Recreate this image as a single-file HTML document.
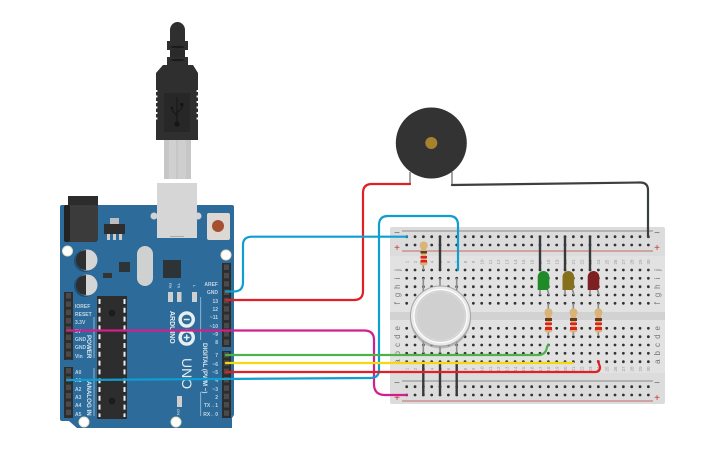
<!DOCTYPE html>
<html><head><meta charset="utf-8"><style>
html,body{margin:0;padding:0;background:#fff}
svg{display:block}
text{font-family:"Liberation Sans",sans-serif}
.p{font-size:5px;fill:#c3d5e2;font-weight:bold}
.n{font-size:4.500px;fill:#999}
.l{font-size:8px;fill:#777}
.s{font-size:10px;fill:#666}
.w{fill:none;stroke-width:2.200;stroke-linecap:round;stroke-linejoin:round}
.h{stroke:#333;stroke-width:2.800;stroke-linecap:round;stroke-dasharray:0 8.333;fill:none}
.k{stroke:#363a3d;stroke-width:2.400;fill:none}
.leg{stroke:#8d8d8d;stroke-width:1.600;fill:none}
.b{fill:#d9b478}
</style></head><body>
<svg width="725" height="453" viewBox="0 0 725 453" xmlns="http://www.w3.org/2000/svg">
<defs>
<pattern id="mesh" width="2" height="2" patternUnits="userSpaceOnUse"><rect width="2" height="2" fill="#d8d8d8"/><circle cx="1" cy="1" r="0.500" fill="#aeaeae"/></pattern>
</defs>
<rect width="725" height="453" fill="#fff"/>

<!-- USB plug -->
<path d="M170 41V30a7.500 8 0 0 1 15 0V41z" fill="#2f2f2f"/>
<rect x="167" y="41" width="21" height="9" fill="#2f2f2f"/>
<rect x="170" y="50" width="15" height="7" fill="#2a2a2a"/>
<rect x="167" y="57" width="21" height="9" fill="#2f2f2f"/>
<ellipse cx="177.500" cy="47" rx="7" ry="1.200" fill="#1b1b1b"/>
<ellipse cx="177.500" cy="60" rx="7" ry="1.200" fill="#1b1b1b"/>
<path d="M163 65H193L198 73V140H156V73z" fill="#2f2f2f"/>
<path d="M156.700 90V121M197.300 90V121" stroke="#fff" stroke-width="1.400" stroke-dasharray="2 3.500" fill="none"/>
<rect x="164" y="93" width="26" height="39" fill="#272727"/>
<path d="M177 97V124M177 116L172 110V108M177 113L182 108V105" stroke="#151515" stroke-width="1" fill="none"/>
<circle cx="177" cy="124" r="2.600" fill="#151515"/><circle cx="172" cy="108" r="1.300" fill="#151515"/><rect x="180" y="103" width="3.500" height="3.500" fill="#151515"/>
<rect x="164" y="140" width="27" height="39" fill="#c6c6c6"/>
<rect x="169" y="140" width="7" height="39" fill="#d0d0d0"/>
<rect x="178" y="140" width="8" height="39" fill="#cecece"/>

<!-- Arduino board -->
<path d="M62 205H232Q234 205 234 207V415L232 418V428H77L69 421H62Q60 421 60 419V207Q60 205 62 205z" fill="#2c6b9a"/>
<rect x="68" y="196" width="30" height="10" fill="#2c2c2c"/>
<rect x="64" y="205" width="34" height="37" rx="3" fill="#3b3b3b"/>
<rect x="64" y="205" width="6" height="37" rx="2" fill="#222"/>
<rect x="104" y="224" width="21" height="10" fill="#2e2e2e"/>
<rect x="110" y="218" width="9" height="6" fill="#bdbdbd"/>
<rect x="107" y="234" width="3" height="6" fill="#ccc"/><rect x="113" y="234" width="3" height="6" fill="#ccc"/><rect x="119" y="234" width="3" height="6" fill="#ccc"/>
<circle cx="154" cy="216" r="3.500" fill="#d3d3d3"/><circle cx="198" cy="216" r="3.500" fill="#d3d3d3"/>
<rect x="157" y="183" width="40" height="55" fill="#d6d6d6"/>
<rect x="170" y="236" width="14" height="1" fill="#aaa"/>
<rect x="207" y="213" width="23" height="27" rx="2" fill="#dcd9d5"/>
<circle cx="218" cy="226" r="6" fill="#a5512f"/>
<circle cx="67.500" cy="251" r="5" fill="#fff" stroke="#e8e0c0" stroke-width="1"/>
<circle cx="226" cy="255" r="5" fill="#fff" stroke="#e8e0c0" stroke-width="1"/>
<circle cx="84" cy="422" r="5" fill="#fff" stroke="#e8e0c0" stroke-width="1"/>
<circle cx="176" cy="422" r="5" fill="#fff" stroke="#e8e0c0" stroke-width="1"/>
<!-- capacitors -->
<circle cx="85" cy="261" r="11" fill="#1f4f75"/><circle cx="87" cy="260" r="10.500" fill="#d5d5d5"/><path d="M86 250a10 10 0 0 0 0 20z" fill="#2e2e2e"/>
<circle cx="85" cy="286" r="11" fill="#1f4f75"/><circle cx="87" cy="285" r="10.500" fill="#d5d5d5"/><path d="M86 275a10 10 0 0 0 0 20z" fill="#2e2e2e"/>
<!-- small parts -->
<rect x="119" y="262" width="11" height="10" fill="#2c3438"/>
<rect x="103" y="273" width="9" height="5" fill="#333"/>
<rect x="137" y="246" width="16" height="40" rx="8" fill="#cfd0d0"/>
<rect x="163" y="260" width="18" height="18" fill="#2c3438"/>
<rect x="168" y="292" width="5" height="10" fill="#cfcfcf"/><rect x="177" y="292" width="4.500" height="10" fill="#cfcfcf"/><rect x="192" y="292" width="5" height="10" fill="#cfcfcf"/>
<rect x="177" y="396" width="5" height="11" fill="#cfcfcf"/>

<!-- headers -->
<g fill="#2d2d2d">
<rect x="222" y="263" width="9" height="84"/><rect x="222" y="351" width="9" height="67"/>
<rect x="64" y="292" width="9" height="68"/><rect x="64" y="367" width="9" height="51"/>
</g>
<path d="M226.500 264.500V347M226.500 352V418M68.500 293V360M68.500 368V418" stroke="#4a4a4a" stroke-width="5" stroke-dasharray="5.500 2.833" fill="none"/>

<!-- chip -->
<rect x="97" y="296" width="30" height="123" fill="#2d2d2d"/>
<path d="M99.500 299V417M124.500 299V417" stroke="#eee" stroke-width="2" stroke-dasharray="5 3.800" fill="none"/>
<circle cx="112" cy="313" r="3.400" fill="#1c1c1c"/><circle cx="112" cy="401" r="3.400" fill="#1c1c1c"/>

<!-- Arduino labels -->
<g class="p" text-anchor="end">
<text x="218" y="286">AREF</text><text x="218" y="294">GND</text><text x="218" y="303">13</text><text x="218" y="311">12</text><text x="218" y="319">~11</text><text x="218" y="328">~10</text><text x="218" y="336">~9</text><text x="218" y="344">8</text>
<text x="218" y="357">7</text><text x="218" y="366">~6</text><text x="218" y="374">~5</text><text x="218" y="382">4</text><text x="218" y="391">~3</text><text x="218" y="399">2</text><text x="218" y="407">TX→1</text><text x="218" y="416">RX←0</text>
</g>
<g class="p">
<text x="75" y="308">IOREF</text><text x="75" y="316">RESET</text><text x="75" y="324">3.3V</text><text x="75" y="333">5V</text><text x="75" y="341">GND</text><text x="75" y="349">GND</text><text x="75" y="358">Vin</text>
<text x="75" y="374">A0</text><text x="75" y="382">A1</text><text x="75" y="391">A2</text><text x="75" y="399">A3</text><text x="75" y="407">A4</text><text x="75" y="416">A5</text>
</g>
<text transform="translate(87,335) rotate(90)" font-size="6.200" font-weight="bold" fill="#dbe7f0">POWER</text>
<text transform="translate(87,381) rotate(90)" font-size="6.200" font-weight="bold" fill="#dbe7f0">ANALOG IN</text>
<text transform="translate(203,343) rotate(90)" font-size="6.200" font-weight="bold" fill="#dbe7f0">DIGITAL (PWM ~)</text>
<path d="M94 317V358M94 368V416M200.700 297V340M200.700 392V416" stroke="#a9c4d8" stroke-width="0.800" fill="none"/>
<text transform="translate(169,283) rotate(90)" font-size="4" fill="#e6eef4">RX</text>
<text transform="translate(177.500,283) rotate(90)" font-size="4" fill="#e6eef4">TX</text>
<text transform="translate(193,285) rotate(90)" font-size="4" fill="#e6eef4">L</text>
<text transform="translate(177,409) rotate(90)" font-size="4" fill="#e6eef4">ON</text>
<g fill="none" stroke="#e6eef0" stroke-width="3.400">
<circle cx="186.700" cy="319.500" r="6.600"/><circle cx="186.700" cy="337.500" r="6.600"/>
</g>
<path d="M183.700 319.500H189.700M186.700 334.500V340.500M183.700 337.500H189.700" stroke="#e6eef0" stroke-width="1.500"/>
<text transform="translate(170,311) rotate(90)" font-size="7" font-weight="bold" fill="#e6eef0">ARDUINO</text>
<text transform="translate(182,358) rotate(90)" font-size="14" fill="#e6eef0">UNO</text>

<!-- Breadboard -->
<rect x="390" y="227" width="275" height="177" rx="2" fill="#dcdcdc"/>
<rect x="390" y="256" width="275" height="117" fill="#e2e2e2"/>
<rect x="390" y="312" width="275" height="8" fill="#d2d2d2"/>
<path d="M402 231H653M402 381H653" stroke="#8a8a8a" stroke-width="1.100"/>
<path d="M402 251H653M402 401H653" stroke="#c46a6a" stroke-width="1.100"/>
<path class="h" d="M406.700 236.700H652M406.700 245H652M406.700 270H652M406.700 278.300H652M406.700 286.700H652M406.700 295H652M406.700 303.300H652M406.700 328.300H652M406.700 336.700H652M406.700 345H652M406.700 353.300H652M406.700 361.700H652M406.700 386.700H652M406.700 395H652"/>
<g class="s" text-anchor="middle">
<text x="397" y="236">−</text><text x="397" y="251" style="fill:#c33">+</text><text x="397" y="386">−</text><text x="397" y="401" style="fill:#c33">+</text>
<text x="657" y="236">−</text><text x="657" y="251" style="fill:#c33">+</text><text x="657" y="386">−</text><text x="657" y="401" style="fill:#c33">+</text>
</g>
<g class="n" text-anchor="middle">
<text transform="translate(408.500,262) rotate(-90)">1</text><text transform="translate(416.800,262) rotate(-90)">2</text><text transform="translate(425.200,262) rotate(-90)">3</text><text transform="translate(433.500,262) rotate(-90)">4</text><text transform="translate(441.800,262) rotate(-90)">5</text><text transform="translate(450.200,262) rotate(-90)">6</text><text transform="translate(458.500,262) rotate(-90)">7</text><text transform="translate(466.800,262) rotate(-90)">8</text><text transform="translate(475.200,262) rotate(-90)">9</text><text transform="translate(483.500,262) rotate(-90)">10</text><text transform="translate(491.800,262) rotate(-90)">11</text><text transform="translate(500.200,262) rotate(-90)">12</text><text transform="translate(508.500,262) rotate(-90)">13</text><text transform="translate(516.800,262) rotate(-90)">14</text><text transform="translate(525.200,262) rotate(-90)">15</text><text transform="translate(533.500,262) rotate(-90)">16</text><text transform="translate(541.800,262) rotate(-90)">17</text><text transform="translate(550.200,262) rotate(-90)">18</text><text transform="translate(558.500,262) rotate(-90)">19</text><text transform="translate(566.800,262) rotate(-90)">20</text><text transform="translate(575.200,262) rotate(-90)">21</text><text transform="translate(583.500,262) rotate(-90)">22</text><text transform="translate(591.800,262) rotate(-90)">23</text><text transform="translate(600.200,262) rotate(-90)">24</text><text transform="translate(608.500,262) rotate(-90)">25</text><text transform="translate(616.800,262) rotate(-90)">26</text><text transform="translate(625.200,262) rotate(-90)">27</text><text transform="translate(633.500,262) rotate(-90)">28</text><text transform="translate(641.800,262) rotate(-90)">29</text><text transform="translate(650.200,262) rotate(-90)">30</text>
<text transform="translate(408.500,369) rotate(-90)">1</text><text transform="translate(416.800,369) rotate(-90)">2</text><text transform="translate(425.200,369) rotate(-90)">3</text><text transform="translate(433.500,369) rotate(-90)">4</text><text transform="translate(441.800,369) rotate(-90)">5</text><text transform="translate(450.200,369) rotate(-90)">6</text><text transform="translate(458.500,369) rotate(-90)">7</text><text transform="translate(466.800,369) rotate(-90)">8</text><text transform="translate(475.200,369) rotate(-90)">9</text><text transform="translate(483.500,369) rotate(-90)">10</text><text transform="translate(491.800,369) rotate(-90)">11</text><text transform="translate(500.200,369) rotate(-90)">12</text><text transform="translate(508.500,369) rotate(-90)">13</text><text transform="translate(516.800,369) rotate(-90)">14</text><text transform="translate(525.200,369) rotate(-90)">15</text><text transform="translate(533.500,369) rotate(-90)">16</text><text transform="translate(541.800,369) rotate(-90)">17</text><text transform="translate(550.200,369) rotate(-90)">18</text><text transform="translate(558.500,369) rotate(-90)">19</text><text transform="translate(566.800,369) rotate(-90)">20</text><text transform="translate(575.200,369) rotate(-90)">21</text><text transform="translate(583.500,369) rotate(-90)">22</text><text transform="translate(591.800,369) rotate(-90)">23</text><text transform="translate(600.200,369) rotate(-90)">24</text><text transform="translate(608.500,369) rotate(-90)">25</text><text transform="translate(616.800,369) rotate(-90)">26</text><text transform="translate(625.200,369) rotate(-90)">27</text><text transform="translate(633.500,369) rotate(-90)">28</text><text transform="translate(641.800,369) rotate(-90)">29</text><text transform="translate(650.200,369) rotate(-90)">30</text>
</g>
<g class="l" text-anchor="middle">
<text transform="translate(400,270) rotate(-90)">j</text><text transform="translate(400,278.300) rotate(-90)">i</text><text transform="translate(400,286.700) rotate(-90)">h</text><text transform="translate(400,295) rotate(-90)">g</text><text transform="translate(400,303.300) rotate(-90)">f</text><text transform="translate(400,328.300) rotate(-90)">e</text><text transform="translate(400,336.700) rotate(-90)">d</text><text transform="translate(400,345) rotate(-90)">c</text><text transform="translate(400,353.300) rotate(-90)">b</text><text transform="translate(400,361.700) rotate(-90)">a</text>
<text transform="translate(660,270) rotate(-90)">j</text><text transform="translate(660,278.300) rotate(-90)">i</text><text transform="translate(660,286.700) rotate(-90)">h</text><text transform="translate(660,295) rotate(-90)">g</text><text transform="translate(660,303.300) rotate(-90)">f</text><text transform="translate(660,328.300) rotate(-90)">e</text><text transform="translate(660,336.700) rotate(-90)">d</text><text transform="translate(660,345) rotate(-90)">c</text><text transform="translate(660,353.300) rotate(-90)">b</text><text transform="translate(660,361.700) rotate(-90)">a</text>
</g>

<!-- Buzzer -->
<path d="M410 172V185M452 172V185" stroke="#8a8a8a" stroke-width="1.600" fill="none"/>
<circle cx="431.300" cy="143" r="35.500" fill="#333"/>
<circle cx="431.300" cy="143" r="6" fill="#a8812f"/>

<!-- Black jumpers -->
<path class="k" d="M440 236.700V270M540 236.700V270M565 236.700V270M590 236.700V270M423.300 361.700V395M440 361.700V395M456.700 361.700V395"/>

<!-- Gas sensor -->
<path class="leg" d="M423.300 278V292M440 278V290M456.700 278V292M423.300 340V353M440 342V353M456.700 340V353"/>
<circle cx="440.500" cy="318" r="30.500" fill="#999" opacity="0.600"/>
<circle cx="440.500" cy="316" r="30" fill="#e9e9e9" stroke="#a5a5a5" stroke-width="1"/>
<circle cx="440.500" cy="316" r="26.500" fill="#d6d6d6" stroke="#fff" stroke-width="1.200"/>
<circle cx="440.500" cy="316" r="23.500" fill="url(#mesh)"/>

<!-- Resistors -->
<path class="leg" d="M423.300 245V270M548.300 303V336M573.300 303V336M598.300 303V336"/>
<path class="b" d="M423.700 241.500c3 0 4 2 4 4 0 2-1.500 3-1.500 4v11c0 1 1.500 1.500 1.500 2.500 0 1.500-1.500 2.500-4 2.500s-4-1-4-2.500c0-1 1.500-1.500 1.500-2.500v-11c0-1-1.500-2-1.500-4 0-2 1-4 4-4z"/>
<rect x="420.500" y="251" width="6.500" height="2.500" fill="#6b3a1c"/><rect x="420.500" y="256" width="6.500" height="2.500" fill="#e02020"/><rect x="420.500" y="260" width="6.500" height="2.500" fill="#e02020"/>
<path class="b" d="M548.500 308.500c3 0 4 2 4 4 0 2-1.500 3-1.500 4v11c0 1 1.500 1.500 1.500 2.500 0 1.500-1.500 2.500-4 2.500s-4-1-4-2.500c0-1 1.500-1.500 1.500-2.500v-11c0-1-1.500-2-1.500-4 0-2 1-4 4-4z"/>
<path class="b" d="M573.500 308.500c3 0 4 2 4 4 0 2-1.500 3-1.500 4v11c0 1 1.500 1.500 1.500 2.500 0 1.500-1.500 2.500-4 2.500s-4-1-4-2.500c0-1 1.500-1.500 1.500-2.500v-11c0-1-1.500-2-1.500-4 0-2 1-4 4-4z"/>
<path class="b" d="M598.500 308.500c3 0 4 2 4 4 0 2-1.500 3-1.500 4v11c0 1 1.500 1.500 1.500 2.500 0 1.500-1.500 2.500-4 2.500s-4-1-4-2.500c0-1 1.500-1.500 1.500-2.500v-11c0-1-1.500-2-1.500-4 0-2 1-4 4-4z"/>
<rect x="545" y="318" width="7" height="3" fill="#6b3a1c"/><rect x="545" y="322.500" width="7" height="2.500" fill="#e02020"/><rect x="545" y="327" width="7" height="3" fill="#e02020"/>
<rect x="570" y="318" width="7" height="3" fill="#6b3a1c"/><rect x="570" y="322.500" width="7" height="2.500" fill="#e02020"/><rect x="570" y="327" width="7" height="3" fill="#e02020"/>
<rect x="595" y="318" width="7" height="3" fill="#6b3a1c"/><rect x="595" y="322.500" width="7" height="2.500" fill="#e02020"/><rect x="595" y="327" width="7" height="3" fill="#e02020"/>

<!-- LEDs -->
<path class="leg" d="M540 288V295M547 288L549 295M565 288V295M572 288L574 295M590 288V295M597 288L599 295"/>
<path d="M537.700 290V277a5.800 6 0 0 1 11.600 0V288l-2 2z" fill="#1f8a28"/>
<path d="M562.500 290V277a5.800 6 0 0 1 11.600 0V288l-2 2z" fill="#85701e"/>
<path d="M587.700 290V277a5.800 6 0 0 1 11.600 0V288l-2 2z" fill="#7e1f22"/>

<!-- Wires -->
<path class="w" stroke="#3b3f42" d="M452 185L640 182.500Q648 182.500 648 190V236.700"/>
<path class="w" stroke="#e01f26" d="M410 184H372Q363 184 363 193V291Q363 300 354 300H226"/>
<path class="w" stroke="#0e9ed0" d="M226 291.500H234Q243 291.500 243 282V245Q243 236.700 252 236.700H406.700"/>
<path class="w" stroke="#d21f8d" d="M67 330.500H364Q374 330.500 374 340V384Q374 395 385 395H406.700"/>
<path class="w" stroke="#0e9ed0" d="M67 380L370 378Q379 378 379 370V225Q379 216 388 216H449Q458 216 458 225V270"/>
<path class="w" stroke="#4bb34a" d="M226 355H538Q546 355 547 347L548 345"/>
<path class="w" stroke="#f5d90f" d="M226 363H573"/>
<path class="w" stroke="#e01f26" d="M226 372H595Q600 372 600 367L598 361"/>
</svg>
</body></html>
